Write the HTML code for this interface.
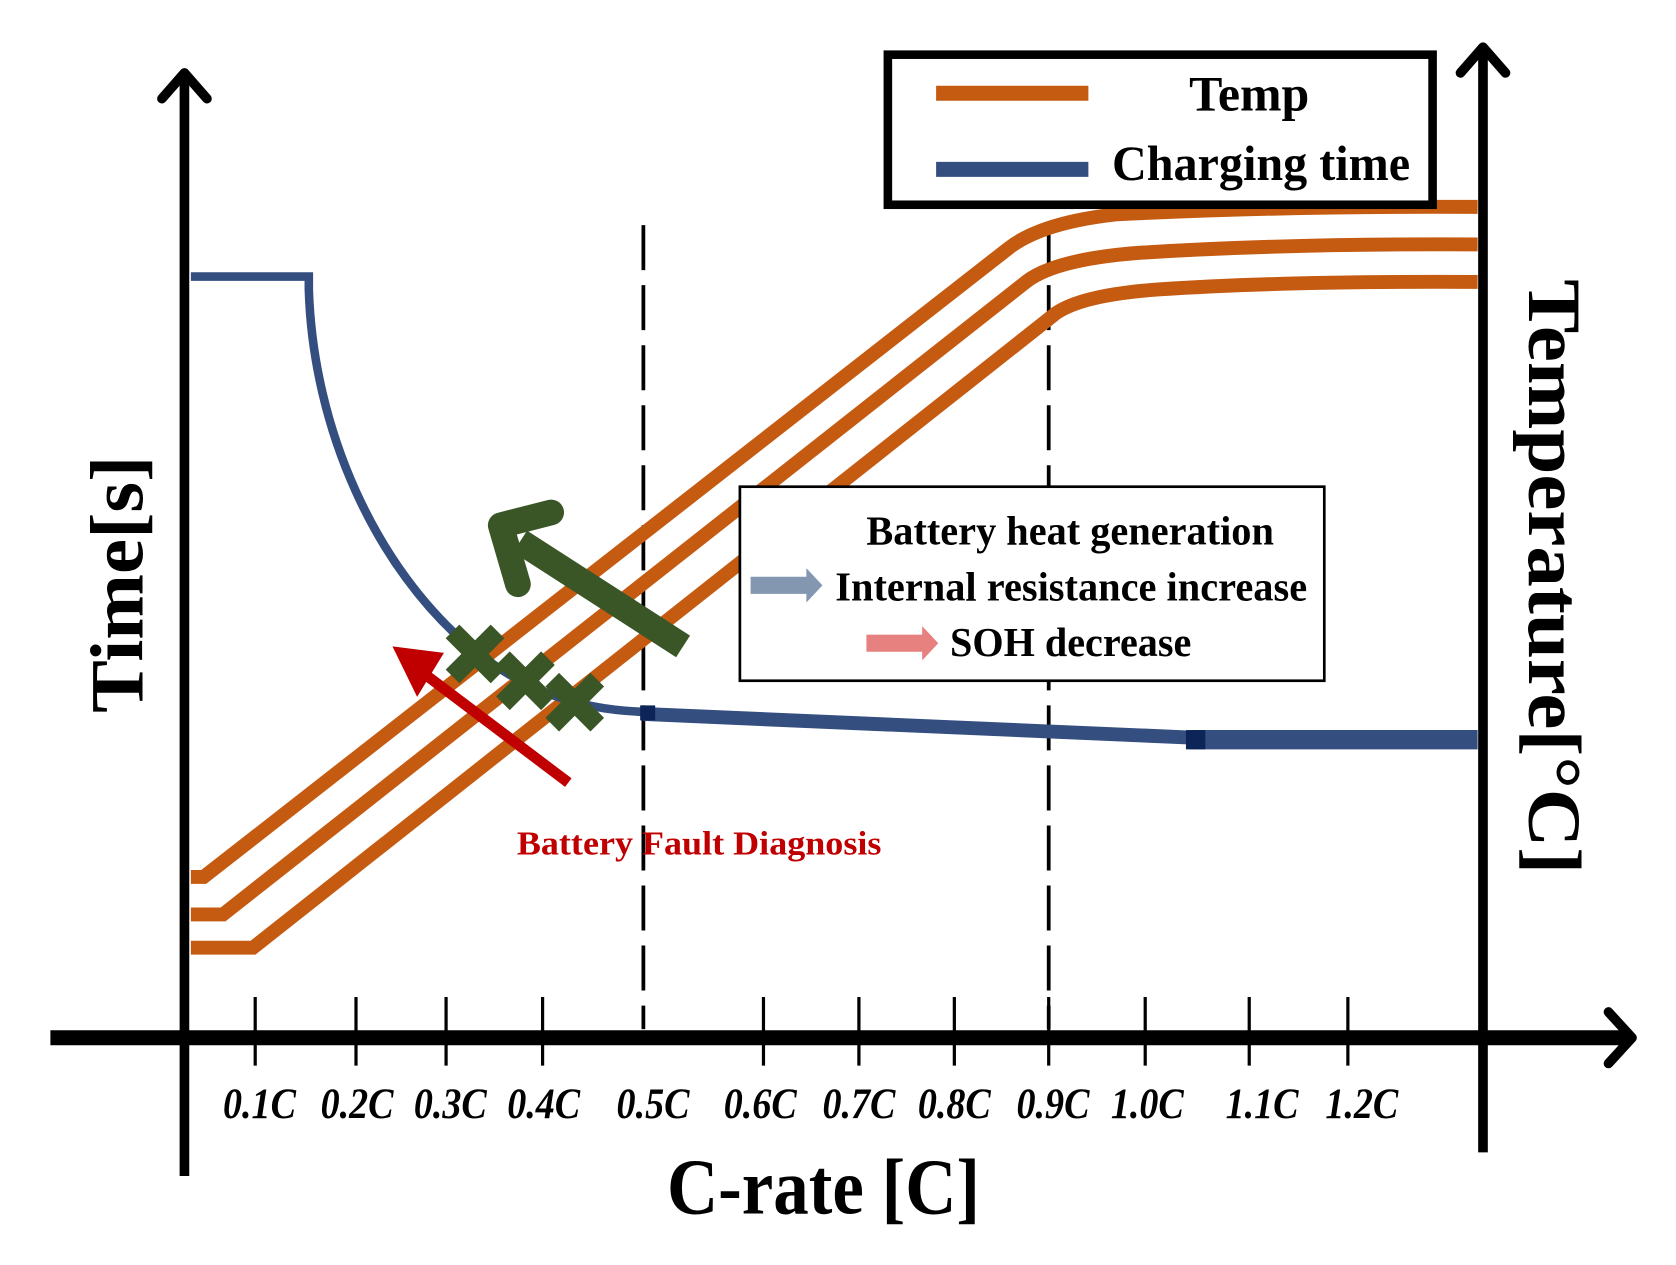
<!DOCTYPE html>
<html><head><style>html,body{margin:0;padding:0;background:#fff}svg{display:block}</style></head>
<body>
<svg width="1676" height="1265" viewBox="0 0 1563 1180" preserveAspectRatio="none" xmlns="http://www.w3.org/2000/svg" font-family="'Liberation Serif',serif" font-weight="bold">
<rect width="1563" height="1180" fill="#fff"/>
<g stroke="#000" stroke-width="3.5" stroke-dasharray="42,14">
<line x1="600" y1="210" x2="600" y2="960"/>
<line x1="978" y1="210" x2="978" y2="960"/>
</g>
<g fill="none" stroke="#C55A11" stroke-width="13">
<path d="M178,818 L190,818 L940,232 Q970,208 1040,200 Q1200,192 1378,193"/>
<path d="M178,853 L208,853 L958,262 Q985,242 1060,236 Q1200,227 1378,228"/>
<path d="M178,884 L236,884 L985,292 Q1010,275 1080,270 Q1200,262 1378,263"/>
</g>
<g fill="none" stroke="#344E80">
<path d="M178,258 L288,258 L288,270 C292,400 350,530 440,605 C490,645 540,662 600,664" stroke-width="8"/>
<path d="M600,666 L1110,688" stroke-width="13"/>
<path d="M1110,690 L1378,690" stroke-width="18"/>
</g>
<rect x="597" y="658" width="14" height="14" fill="#0D2459"/>
<rect x="1106" y="681" width="18" height="18" fill="#0D2459"/>
<g stroke="#3A5626" fill="none">
<line x1="637" y1="603" x2="485" y2="505" stroke-width="24"/>
<polyline points="483,545 467,490 514,478" stroke-width="24" stroke-linejoin="round" stroke-linecap="round"/>
</g>
<g stroke="#3A5626" stroke-width="18">
<path d="M422,589 L464,631 M464,589 L422,631"/>
<path d="M469,614 L511,656 M511,614 L469,656"/>
<path d="M515,634 L557,676 M557,634 L515,676"/>
</g>
<line x1="530" y1="730" x2="395" y2="628" stroke="#C00000" stroke-width="10"/>
<polygon points="366,603 414,609 389,650" fill="#C00000"/>
<text x="652" y="797" font-size="32" fill="#C00000" text-anchor="middle" textLength="340" lengthAdjust="spacingAndGlyphs">Battery Fault Diagnosis</text>
<g stroke="#000" fill="none">
<line x1="172" y1="70" x2="172" y2="1097" stroke-width="9"/>
<polyline points="151,92 172,68 193,92" stroke-width="9" stroke-linejoin="round" stroke-linecap="round"/>
<line x1="1383" y1="45" x2="1383" y2="1075" stroke-width="9"/>
<polyline points="1362,68 1383,44 1404,68" stroke-width="9" stroke-linejoin="round" stroke-linecap="round"/>
<line x1="47" y1="968" x2="1520" y2="968" stroke-width="14"/>
<polyline points="1500,944 1522,968 1500,992" stroke-width="9" stroke-linejoin="round" stroke-linecap="round"/>
<g stroke-width="3">
<line x1="238" y1="930" x2="238" y2="994"/><line x1="332" y1="930" x2="332" y2="994"/>
<line x1="416" y1="930" x2="416" y2="994"/><line x1="506" y1="930" x2="506" y2="994"/>
<line x1="712" y1="930" x2="712" y2="994"/><line x1="801" y1="930" x2="801" y2="994"/>
<line x1="890" y1="930" x2="890" y2="994"/><line x1="978" y1="930" x2="978" y2="994"/>
<line x1="1068" y1="930" x2="1068" y2="994"/><line x1="1165" y1="930" x2="1165" y2="994"/>
<line x1="1257" y1="930" x2="1257" y2="994"/>
</g>
</g>
<g font-size="40" font-style="italic" text-anchor="middle">
<text x="242" y="1043" textLength="68" lengthAdjust="spacingAndGlyphs">0.1C</text>
<text x="333" y="1043" textLength="68" lengthAdjust="spacingAndGlyphs">0.2C</text>
<text x="420" y="1043" textLength="68" lengthAdjust="spacingAndGlyphs">0.3C</text>
<text x="507" y="1043" textLength="68" lengthAdjust="spacingAndGlyphs">0.4C</text>
<text x="609" y="1043" textLength="68" lengthAdjust="spacingAndGlyphs">0.5C</text>
<text x="709" y="1043" textLength="68" lengthAdjust="spacingAndGlyphs">0.6C</text>
<text x="801" y="1043" textLength="68" lengthAdjust="spacingAndGlyphs">0.7C</text>
<text x="890" y="1043" textLength="68" lengthAdjust="spacingAndGlyphs">0.8C</text>
<text x="982" y="1043" textLength="68" lengthAdjust="spacingAndGlyphs">0.9C</text>
<text x="1070" y="1043" textLength="68" lengthAdjust="spacingAndGlyphs">1.0C</text>
<text x="1177" y="1043" textLength="68" lengthAdjust="spacingAndGlyphs">1.1C</text>
<text x="1270" y="1043" textLength="68" lengthAdjust="spacingAndGlyphs">1.2C</text>
</g>
<text x="768" y="1132" font-size="74" text-anchor="middle" textLength="292" lengthAdjust="spacingAndGlyphs">C-rate [C]</text>
<text transform="translate(133,545) rotate(-90)" font-size="70" text-anchor="middle" textLength="240" lengthAdjust="spacingAndGlyphs">Time[s]</text>
<text transform="translate(1426,538) rotate(90)" font-size="70" text-anchor="middle" textLength="555" lengthAdjust="spacingAndGlyphs">Temperature[°C]</text>
<rect x="828" y="51" width="508" height="140" fill="#fff" stroke="#000" stroke-width="8"/>
<line x1="873" y1="87" x2="1015" y2="87" stroke="#C55A11" stroke-width="14"/>
<line x1="873" y1="158" x2="1015" y2="158" stroke="#344E80" stroke-width="14"/>
<text x="1165" y="103" font-size="46" text-anchor="middle" textLength="112" lengthAdjust="spacingAndGlyphs">Temp</text>
<text x="1037" y="168" font-size="46" textLength="278" lengthAdjust="spacingAndGlyphs">Charging time</text>
<rect x="690" y="454" width="545" height="181" fill="#fff" stroke="#000" stroke-width="2.5"/>
<text x="998" y="508" font-size="38" text-anchor="middle" textLength="380" lengthAdjust="spacingAndGlyphs">Battery heat generation</text>
<polygon points="700,538 752,538 752,530 767,546 752,562 752,554 700,554" fill="#8497B0"/>
<text x="779" y="560" font-size="38" textLength="440" lengthAdjust="spacingAndGlyphs">Internal resistance increase</text>
<polygon points="808,592 860,592 860,584 875,600 860,616 860,608 808,608" fill="#E6817F"/>
<text x="886" y="612" font-size="38" textLength="225" lengthAdjust="spacingAndGlyphs">SOH decrease</text>
</svg>
</body></html>
